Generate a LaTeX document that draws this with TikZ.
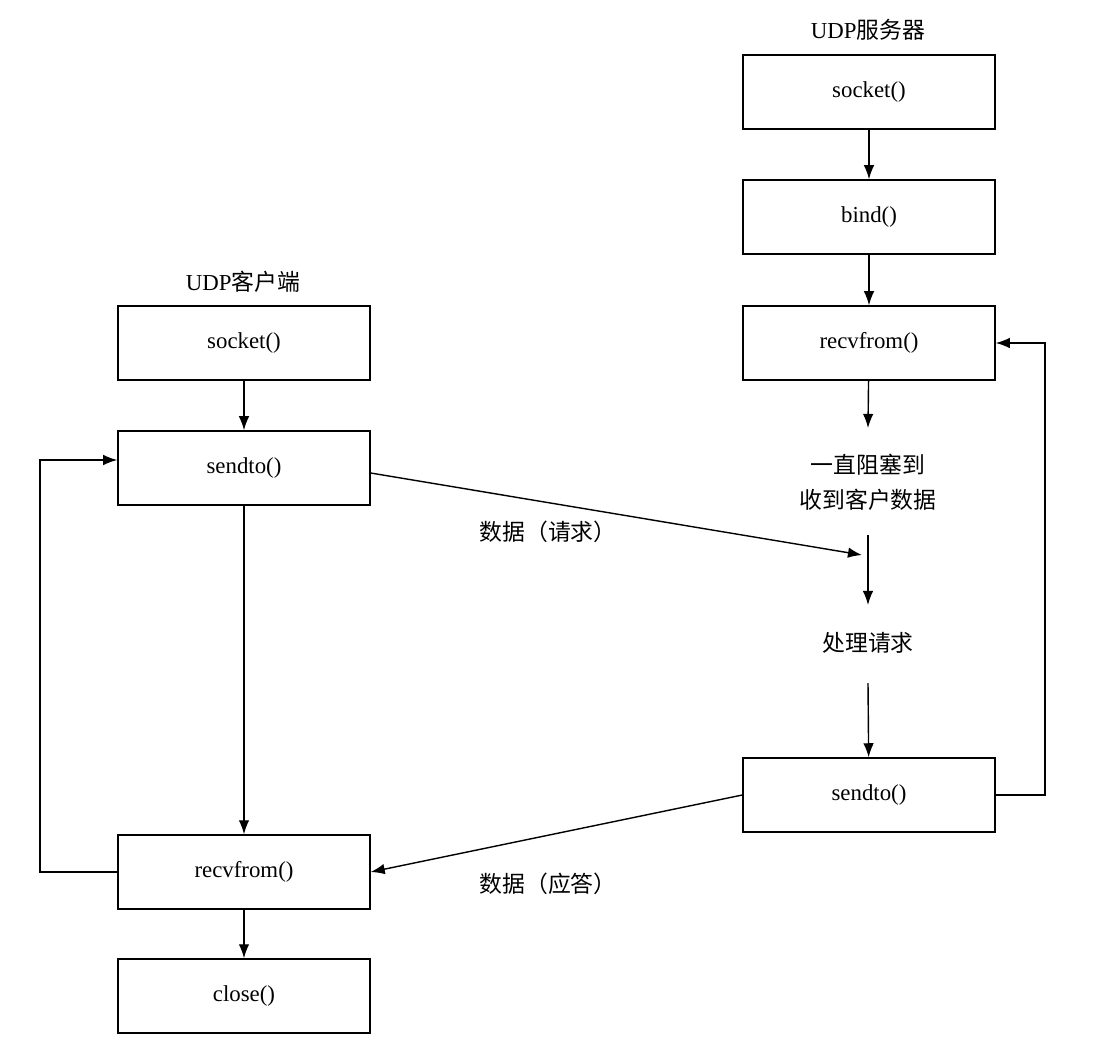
\documentclass[tikz,border=0pt]{standalone}
\usepackage{fontspec}
\setmainfont{Liberation Serif}
\newfontfamily\cjk{Noto Sans CJK SC}
\usetikzlibrary{arrows.meta}
\begin{document}
\begin{tikzpicture}[x=0.02cm,y=-0.02cm,
  box/.style={draw,line width=0.8pt,minimum width=252*0.02cm,minimum height=74*0.02cm,inner sep=0pt,font=\fontsize{13}{15}\selectfont},
  lbl/.style={font=\fontsize{13}{20}\selectfont\cjk,align=center},
  arr/.style={line width=0.8pt,-{Latex[length=8pt,width=6pt]}}]
\useasboundingbox (0,0) rectangle (1113,1038);
\node[lbl] (st) at (868,30) {\fontspec{Liberation Serif}UDP\cjk 服务器};
\node[box] (ss) at (869,92) {socket()};
\node[box] (sb) at (869,217) {bind()};
\node[box] (sr) at (869,343) {recvfrom()};
\node[lbl] (wait) at (868,482) {一直阻塞到\\收到客户数据};
\coordinate (p1) at (868,535);
\coordinate (p2) at (868,605);
\node[lbl] (proc) at (868,643) {处理请求};
\coordinate (p3) at (868,683);
\node[box] (ssend) at (869,795) {sendto()};
\node[lbl] (ct) at (243,282) {\fontspec{Liberation Serif}UDP\cjk 客户端};
\node[box] (cs) at (244,343) {socket()};
\node[box] (csend) at (244,468) {sendto()};
\node[box] (cr) at (244,872) {recvfrom()};
\node[box] (cc) at (244,996) {close()};
\node[lbl] (l1) at (548,532) {数据（请求）};
\node[lbl] (l2) at (548,884) {数据（应答）};
\draw[arr] (ss) -- (sb);
\draw[arr] (sb) -- (sr);
\draw[arr] (sr) -- (868,428);
\draw[arr] (p1) -- (p2);
\draw[arr] (p3) -- (ssend);
\draw[arr] (csend.east |- 0,473) -- (862,555);
\draw[arr] (ssend.west) -- (cr.east);
\draw[arr] (ssend.east) -- (1045,795) -- (1045,343) -- (sr.east);
\draw[arr] (cs) -- (csend);
\draw[arr] (csend) -- (cr);
\draw[arr] (cr) -- (cc);
\draw[arr] (cr.west) -- (40,872) -- (40,460) -- (csend.west |- 0,460);
\end{tikzpicture}
\end{document}
